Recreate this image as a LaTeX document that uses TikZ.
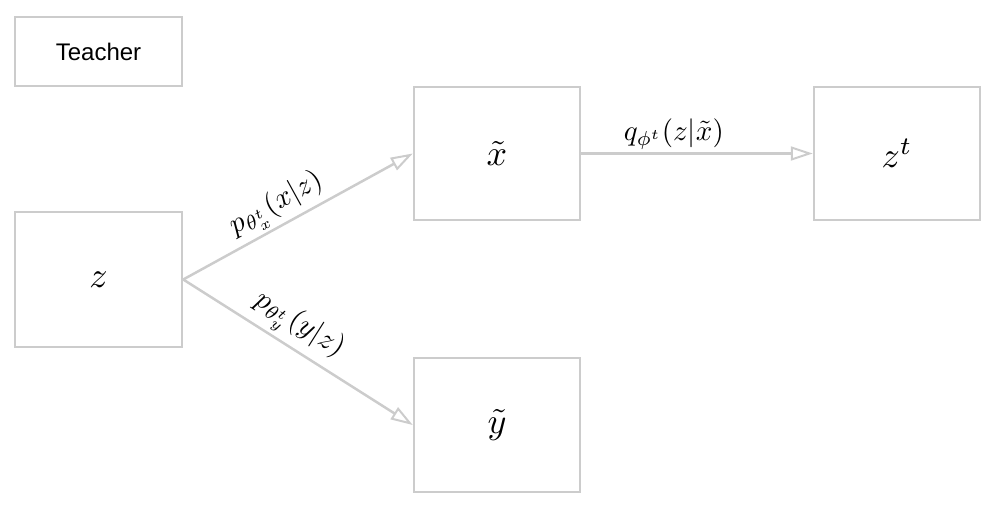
\documentclass[tikz,border=0pt]{standalone}
\usepackage{fontspec}
\newfontfamily\lsans{Liberation Sans}
\usetikzlibrary{arrows.meta}
\newcommand{\nodemath}[1]{\scalebox{3.6}{$#1$}}
\newcommand{\lblmath}[1]{\scalebox{2.9}{$#1$}}
\begin{document}
\begin{tikzpicture}[x=1pt,y=-1pt,
  bx/.style={draw=black!20,line width=2.5pt,inner sep=0pt},
  conn/.style={draw=black!20,line width=2.5pt,-{Triangle[open,length=22pt,width=14pt,line width=2pt]}},
  lbl/.style={inner sep=3pt}]
\useasboundingbox (0,0) rectangle (996,510);
\node[bx,minimum width=167pt,minimum height=69pt] (teacher) at (98.5,51.5) {\lsans\fontsize{24}{26}\selectfont Teacher};
\node[bx,minimum width=167pt,minimum height=135pt] (z) at (98.5,279.5) {\nodemath{z}};
\node[bx,minimum width=166pt,minimum height=133pt] (x) at (497,153.5) {\nodemath{\tilde{x}}};
\node[bx,minimum width=166pt,minimum height=133pt] (zt) at (897,153.5) {\nodemath{z^t}};
\node[bx,minimum width=166pt,minimum height=134pt] (y) at (497,425) {\nodemath{\tilde{y}}};
\coordinate (zr) at (z.east);
\draw[conn] (zr) -- (x.west) node[pos=0.45,sloped,above,lbl] {\lblmath{p_{\theta_x^t}(x|z)}};
\draw[conn] (zr) -- (y.west) node[pos=0.45,sloped,above,lbl] {\lblmath{p_{\theta_y^t}(y|z)}};
\draw[conn] (x.east) -- (zt.west) node[pos=0.4,above,lbl] {\lblmath{q_{\phi^t}(z|\tilde{x})}};
\end{tikzpicture}
\end{document}
